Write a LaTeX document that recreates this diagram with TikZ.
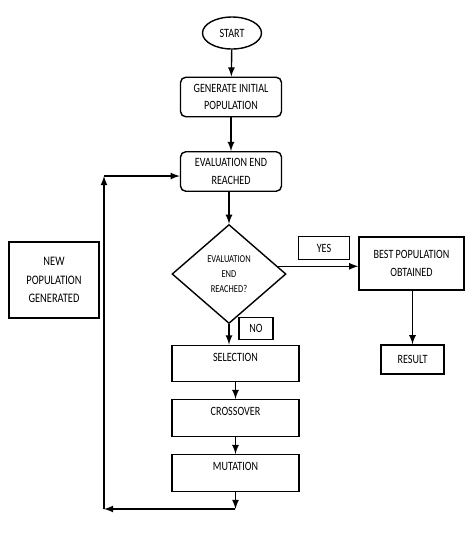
\documentclass[tikz,border=0pt]{standalone}
\usepackage{fontspec}
\setmainfont{Carlito}[FakeStretch=0.8]
\usetikzlibrary{shapes.geometric}

\begin{document}
\begin{tikzpicture}[x=0.02cm, y=-0.02cm, >=latex, line width=0.8pt,
  every node/.style={font=\fontsize{7.2}{9.8}\selectfont, align=center, inner sep=0pt},
  startnode/.style={draw, ellipse, minimum width=1.18cm, minimum height=0.64cm},
  roundbox/.style={draw, rectangle, rounded corners=3pt, minimum width=2.02cm, minimum height=0.79cm},
  decision/.style={draw, diamond, minimum width=2.28cm, minimum height=1.98cm,
    font=\fontsize{6}{8.5}\selectfont},
  procbox/.style={draw, rectangle, minimum width=2.54cm, minimum height=0.73cm,
    text height=9pt, text depth=11.7pt},
  tagbox/.style={draw, rectangle, minimum width=#1, minimum height=0.45cm}]
  \useasboundingbox (0,0) rectangle (474,556);

  \node (Start) at (232,33) [startnode] {START};
  \node (Gen) at (231,97) [roundbox] {GENERATE INITIAL\\POPULATION};
  \node (Eval) at (231,171.5) [roundbox] {EVALUATION END\\REACHED};
  \node (Dec) at (229,274) [decision] {EVALUATION\\END\\REACHED?};

  \node (Yes) at (324,248) [tagbox=1.02cm] {YES};
  \node (No) at (256,328.5) [tagbox=0.68cm] {NO};

  \node (Best) at (411.5,263.5) [draw, rectangle, minimum width=2.1cm,
    minimum height=1.06cm] {BEST POPULATION\\OBTAINED};
  \node (Result) at (412.5,359.5) [draw, rectangle, minimum width=1.26cm,
    minimum height=0.58cm] {RESULT};

  \node (Sel) at (235.5,363.5) [procbox] {SELECTION};
  \node (Cross) at (235.5,418) [procbox] {CROSSOVER};
  \node (Mut) at (235.5,473) [procbox] {MUTATION};

  \node (NewPop) at (54,280) [draw, rectangle, minimum width=1.8cm, minimum height=1.52cm,
    font=\fontsize{7.4}{10.4}\selectfont] {NEW\\POPULATION\\GENERATED};

  \coordinate (BotL) at (104,509);
  \coordinate (BotR) at (Mut.south |- BotL);
  \coordinate (TopL) at (104,176);

  \draw[->] (Start) -- (Gen);
  \draw[->] (Gen) -- (Eval);
  \draw[->] (Eval.south -| Dec.north) -- (Dec.north);
  \draw[->] (Dec.9) -- (Dec.9 -| Best.west);
  \draw[->] (Dec.south) -- (Dec.south |- Sel.north);
  \draw[->] (Best.south -| Result.north) -- (Result.north);
  \draw[->] (Sel) -- (Cross);
  \draw[->] (Cross) -- (Mut);

  \draw[->] (Mut.south) -- (BotR);
  \draw[->] (BotR) -- (BotL);
  \draw[->] (BotL) -- (TopL);
  \draw[->] (TopL) -- (TopL -| Eval.west);
\end{tikzpicture}
\end{document}
